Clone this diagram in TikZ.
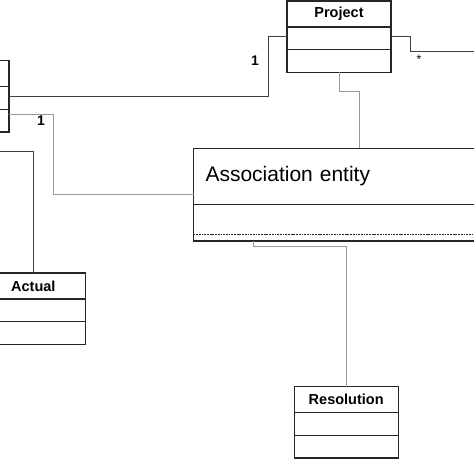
\documentclass[tikz,border=0pt]{standalone}
\usepackage{fontspec}
\setmainfont{Liberation Sans}
\usetikzlibrary{arrows.meta,positioning,calc}

\begin{document}
\begin{tikzpicture}[
    x=1pt, y=-1pt,
    title/.style={rectangle, draw=black!85, line width=1.3pt, inner sep=0pt, outer sep=0pt, minimum width=104pt, minimum height=26pt, font=\fontsize{14.5}{16}\selectfont\bfseries},
    part/.style={rectangle, draw=black!85, line width=1.3pt, inner sep=0pt, outer sep=0pt, minimum width=104pt, minimum height=22.7pt},
    link/.style={draw=black!75, line width=0.8pt},
    glink/.style={draw=black!40, line width=0.8pt},
    mult/.style={font=\fontsize{14}{16}\selectfont\bfseries}
]

% Canvas
\clip (0,0) rectangle (474,474);
\fill[white] (0,0) rectangle (474,474);

% Class boxes: title, attributes, operations
\foreach \name/\x/\y/\title in {task/-43/60.7/{}, project/339/1/Project, actual/33.3/273/Actual, resolution/346.2/386.7/Resolution} {
    \node[title, anchor=north] (\name T) at (\x,\y) {\title};
    \node[part, anchor=north] (\name A) at (\name T.south) {};
    \node[part, anchor=north] (\name O) at (\name A.south) {};
}

% Association entity
\node[rectangle, draw=black!85, line width=1.3pt, anchor=north west, inner xsep=12pt, inner ysep=0pt, outer sep=0pt,
      minimum width=346.5pt, minimum height=56.2pt, text width=322.5pt, align=left,
      font=\fontsize{21}{24}\selectfont] (assocT) at (193.5,148.3) {Association entity};
\node[rectangle, draw=black!85, line width=1.3pt, anchor=north, inner sep=0pt, outer sep=0pt,
      minimum width=346.5pt, minimum height=36.4pt] (assocB) at (assocT.south) {};
\draw[black!85, line width=1pt, dash pattern=on 1.8pt off 0.9pt]
    ([yshift=6.9pt]assocB.south west) -- ([yshift=6.9pt]assocB.south east);

% Free ends
\coordinate (offleft) at (-10,151.7);
\coordinate (offright) at (490,51.3);

% Connectors
\draw[link] ([yshift=1.3pt]taskA.east) -- ++(259.7,0) |- ([yshift=2pt]projectA.west);
\draw[glink] ([yshift=6.7pt]taskO.east) -- ++(44.7,0) |- ([yshift=-18.3pt]assocT.west);
\draw[link] (offleft) -| (actualT.north);
\draw[glink] (projectO.south) -- ++(0,18.7) -| ([xshift=-7.4pt]assocT.north);
\draw[link] ([yshift=2pt]projectA.east) -- ++(19.3,0) |- (offright);
\draw[glink] ([xshift=59.5pt]assocB.south west) -- ++(0,5.6) -| (resolutionT.north);

% Multiplicities
\node[mult] (m1) at (255,61) {1};
\node[mult] (m2) at (41,121) {1};
\node[font=\fontsize{12}{14}\selectfont] (m3) at (419,59) {*};

\end{tikzpicture}
\end{document}
